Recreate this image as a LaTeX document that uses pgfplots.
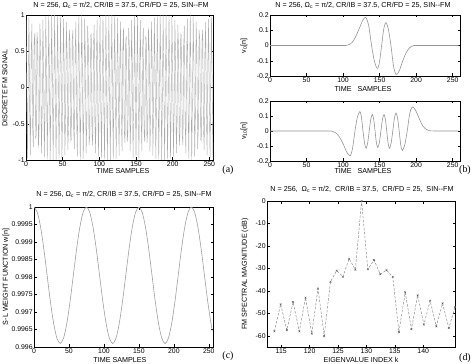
\documentclass[border=0pt]{standalone}
\usepackage{pgfplots}
\pgfplotsset{compat=1.18}
\usepackage{fontspec}
\setmainfont{Liberation Sans}
\newfontfamily\serifl{Liberation Serif}
\begin{document}
\begin{tikzpicture}
\useasboundingbox (0bp,0bp) rectangle (474bp,364bp);
\pgfplotsset{
  base/.style={scale only axis, anchor=south west,
    axis line style={line width=0.5pt, black},
    tick style={line width=0.4pt, black},
    major tick length=2.5bp,
    ticklabel style={font=\fontsize{6.9}{7.5}\selectfont, inner sep=1.2bp},
    /pgf/number format/assume math mode=true,
    scaled ticks=false},
}
\def\ttl{\fontsize{7.2}{8}\selectfont}
\def\lbl{\fontsize{7.2}{8}\selectfont}
\def\sinfm{SIN-\kern0pt-FM}
% ---------- (a)
\begin{axis}[base, at={(26bp,204bp)}, width=187bp, height=145bp,
  xmin=0, xmax=255, ymin=-1, ymax=1,
  xtick={0,50,...,250}, ytick={-1,-0.5,0,0.5,1}]
\addplot[black!33, line width=0.4pt] table[x expr=\coordindex, y index=0, header=false, row sep=\\] {
1.00\\-0.06\\-0.99\\0.19\\0.97\\-0.31\\-0.93\\0.42\\0.88\\-0.52\\-0.82\\0.62\\0.75\\-0.70\\-0.67\\0.77\\
0.60\\-0.83\\-0.52\\0.88\\0.44\\-0.91\\-0.37\\0.94\\0.30\\-0.96\\-0.24\\0.98\\0.19\\-0.99\\-0.14\\0.99\\
0.11\\-1.00\\-0.09\\1.00\\0.07\\-1.00\\-0.07\\1.00\\0.08\\-1.00\\-0.10\\0.99\\0.13\\-0.99\\-0.16\\0.98\\
0.21\\-0.97\\-0.27\\0.95\\0.33\\-0.93\\-0.40\\0.90\\0.48\\-0.86\\-0.56\\0.80\\0.64\\-0.74\\-0.71\\0.66\\
0.79\\-0.57\\-0.85\\0.47\\0.91\\-0.36\\-0.95\\0.25\\0.98\\-0.13\\-1.00\\0.00\\1.00\\0.13\\-0.98\\-0.25\\
0.95\\0.36\\-0.91\\-0.47\\0.85\\0.57\\-0.79\\-0.66\\0.71\\0.74\\-0.64\\-0.80\\0.56\\0.86\\-0.48\\-0.90\\
0.40\\0.93\\-0.33\\-0.95\\0.27\\0.97\\-0.21\\-0.98\\0.16\\0.99\\-0.13\\-0.99\\0.10\\1.00\\-0.08\\-1.00\\
0.07\\1.00\\-0.07\\-1.00\\0.09\\1.00\\-0.11\\-0.99\\0.14\\0.99\\-0.19\\-0.98\\0.24\\0.96\\-0.30\\-0.94\\
0.37\\0.91\\-0.44\\-0.88\\0.52\\0.83\\-0.60\\-0.77\\0.67\\0.70\\-0.75\\-0.62\\0.82\\0.52\\-0.88\\-0.42\\
0.93\\0.31\\-0.97\\-0.19\\0.99\\0.06\\-1.00\\0.06\\0.99\\-0.19\\-0.97\\0.31\\0.93\\-0.42\\-0.88\\0.52\\
0.82\\-0.62\\-0.75\\0.70\\0.67\\-0.77\\-0.60\\0.83\\0.52\\-0.88\\-0.44\\0.91\\0.37\\-0.94\\-0.30\\0.96\\
0.24\\-0.98\\-0.19\\0.99\\0.14\\-0.99\\-0.11\\1.00\\0.09\\-1.00\\-0.07\\1.00\\0.07\\-1.00\\-0.08\\1.00\\
0.10\\-0.99\\-0.13\\0.99\\0.16\\-0.98\\-0.21\\0.97\\0.27\\-0.95\\-0.33\\0.93\\0.40\\-0.90\\-0.48\\0.86\\
0.56\\-0.80\\-0.64\\0.74\\0.71\\-0.66\\-0.79\\0.57\\0.85\\-0.47\\-0.91\\0.36\\0.95\\-0.25\\-0.98\\0.13\\
1.00\\0.00\\-1.00\\-0.13\\0.98\\0.25\\-0.95\\-0.36\\0.91\\0.47\\-0.85\\-0.57\\0.79\\0.66\\-0.71\\-0.74\\
0.64\\0.80\\-0.56\\-0.86\\0.48\\0.90\\-0.40\\-0.93\\0.33\\0.95\\-0.27\\-0.97\\0.21\\0.98\\-0.16\\-0.99\\
};
\end{axis}
% ---------- (b) top
\begin{axis}[base, at={(270bp,288bp)}, width=190bp, height=61bp,
  xmin=0, xmax=260, ymin=-0.2, ymax=0.2,
  xtick={0,50,...,250}, ytick={-0.2,-0.1,0,0.1,0.2}]
\addplot[black!42, line width=0.6pt, smooth] coordinates {
(0,0) (50,0) (100,0) (102,0) (107,0.004) (112,0.018) (117,0.055) (122,0.11) (127,0.165) (131,0.185)
(135,0.131) (139,0) (143,-0.106) (147,-0.15) (149.9,-0.106) (152.75,0) (155.6,0.106) (158.5,0.15)
(162,0.106) (165.5,0) (169,-0.134) (172.5,-0.19) (176.5,-0.17) (181,-0.11) (186,-0.05) (191,-0.015)
(196,-0.002) (200,0) (230,0) (258,0)};
\end{axis}
% ---------- (b) bottom
\begin{axis}[base, at={(270bp,203bp)}, width=190bp, height=60bp,
  xmin=0, xmax=260, ymin=-0.2, ymax=0.2,
  xtick={0,50,...,250}, ytick={-0.2,-0.1,0,0.1,0.2}]
\addplot[black!42, line width=0.6pt, smooth] coordinates {
(0,0) (40,0) (80,0) (85,-0.002) (90,-0.012) (95,-0.04) (100,-0.085) (105,-0.14) (109.5,-0.165)
(112.9,-0.117) (116.25,0) (119.6,0.092) (123,0.13) (125.1,0.092) (127.25,0) (129.4,-0.081) (131.5,-0.115)
(133.6,-0.081) (135.75,0) (137.9,0.078) (140,0.11) (141.9,0.078) (143.75,0) (145.6,-0.078) (147.5,-0.11)
(149.6,-0.078) (151.75,0) (153.9,0.078) (156,0.11) (157.9,0.078) (159.75,0) (161.6,-0.081) (163.5,-0.115)
(165.75,-0.081) (168,0) (170.25,0.085) (172.5,0.12) (174.6,0.085) (176.75,0) (178.9,-0.092) (181,-0.13)
(184.4,-0.092) (187.75,0) (191.1,0.113) (194.5,0.16) (199,0.14) (204,0.085) (209,0.035) (214,0.01)
(220,0.001) (225,0) (240,0) (258,0)};
\end{axis}
% ---------- (c)
\begin{axis}[base, at={(34bp,17bp)}, width=179bp, height=140bp,
  xmin=0, xmax=256, ymin=0.996, ymax=1,
  xtick={0,50,...,250},
  ytick={0.996,0.9965,0.997,0.9975,0.998,0.9985,0.999,0.9995,1},
  yticklabels={0.996,0.9965,0.997,0.9975,0.998,0.9985,0.999,0.9995,1}]
\addplot[black!38, line width=0.6pt, smooth] coordinates {
(0,1.00000) (4.69,0.99985) (9.38,0.99943) (14.06,0.99880) (18.75,0.99805) (23.44,0.99730) (28.13,0.99667)
(32.81,0.99625) (37.5,0.99610) (42.19,0.99625) (46.88,0.99667) (51.56,0.99730) (56.25,0.99805)
(60.94,0.99880) (65.63,0.99943) (70.31,0.99985) (75,1.00000) (79.69,0.99985) (84.38,0.99943)
(89.06,0.99880) (93.75,0.99805) (98.44,0.99730) (103.13,0.99667) (107.81,0.99625) (112.5,0.99610)
(117.19,0.99625) (121.88,0.99667) (126.56,0.99730) (131.25,0.99805) (135.94,0.99880) (140.63,0.99943)
(145.31,0.99985) (150,1.00000) (154.69,0.99985) (159.38,0.99943) (164.06,0.99880) (168.75,0.99805)
(173.44,0.99730) (178.13,0.99667) (182.81,0.99625) (187.5,0.99610) (192.19,0.99625) (196.88,0.99667)
(201.56,0.99730) (206.25,0.99805) (210.94,0.99880) (215.63,0.99943) (220.31,0.99985) (225,1.00000)
(229.69,0.99985) (234.38,0.99943) (239.06,0.99880) (243.75,0.99805) (248.44,0.99730) (253.13,0.99667)
(255,0.99647)};
\end{axis}
% ---------- (d)
\begin{axis}[base, at={(267bp,17bp)}, width=188bp, height=146bp,
  xmin=112.5, xmax=145.6, ymin=-65, ymax=0,
  xtick={115,120,...,140}, ytick={-60,-50,...,0}]
\addplot[black!45, line width=0.5pt, dash pattern=on 2.5bp off 1.5bp,
  mark=x, mark size=1.2bp, mark options={solid, black!65, line width=0.4pt}] coordinates {
(113.80,-58) (114.90,-46) (115.99,-57.5) (117.09,-45) (118.19,-58) (119.28,-43) (120.38,-59)
(121.48,-39) (122.57,-60) (123.67,-36) (124.77,-31) (125.86,-33.7) (126.96,-25.7) (128.06,-30.6)
(129.15,0) (130.25,-30.4) (131.35,-26.3) (132.44,-32.6) (133.54,-30.8) (134.64,-33.8) (135.73,-58.3)
(136.83,-40.7) (137.93,-57) (139.02,-42) (140.12,-55) (141.22,-44.4) (142.31,-55.8) (143.41,-45.6)
(144.51,-56.5) (145.60,-47.3)};
\end{axis}
% ---------- titles and labels
\node[font=\ttl] at (121bp,359bp) {N = 256, Ω\textsubscript{c} = π/2, CR/IB = 37.5, CR/FD = 25, \sinfm};
\node[font=\ttl] at (363bp,359bp) {N = 256, Ω\textsubscript{c} = π/2, CR/IB = 37.5, CR/FD = 25, \sinfm};
\node[font=\ttl] at (124bp,170bp) {N = 256, Ω\textsubscript{c} = π/2, CR/IB = 37.5, CR/FD = 25, \sinfm};
\node[font=\ttl] at (362bp,175bp) {N = 256,\ \ Ω\textsubscript{c} = π/2,\ \ CR/IB = 37.5,\ \ CR/FD = 25,\ \ \sinfm};
\node[font=\lbl] at (123bp,193bp) {TIME SAMPLES};
\node[font=\lbl] at (363bp,275bp) {TIME\ \ \ SAMPLES};
\node[font=\lbl] at (363bp,193bp) {TIME\ \ \ SAMPLES};
\node[font=\lbl] at (120bp,4bp) {TIME SAMPLES};
\node[font=\lbl] at (361bp,4bp) {EIGENVALUE INDEX k};
\node[font=\lbl, rotate=90] at (5bp,276bp) {DISCRETE FM SIGNAL};
\node[font=\lbl, rotate=90] at (244bp,318bp) {v\textsubscript{0}[n]};
\node[font=\lbl, rotate=90] at (244bp,233bp) {v\textsubscript{10}[n]};
\node[font=\lbl, rotate=90] at (6bp,87bp) {S-L WEIGHT FUNCTION w[n]};
\node[font=\lbl, rotate=90] at (245bp,90bp) {FM SPECTRAL MAGNITUDE (dB)};
\node[font=\serifl\fontsize{10}{11}\selectfont] at (228bp,194bp) {(a)};
\node[font=\serifl\fontsize{10}{11}\selectfont] at (465bp,194bp) {(b)};
\node[font=\serifl\fontsize{10}{11}\selectfont] at (228bp,8bp) {(c)};
\node[font=\serifl\fontsize{10}{11}\selectfont] at (465bp,6bp) {(d)};
\end{tikzpicture}
\end{document}
